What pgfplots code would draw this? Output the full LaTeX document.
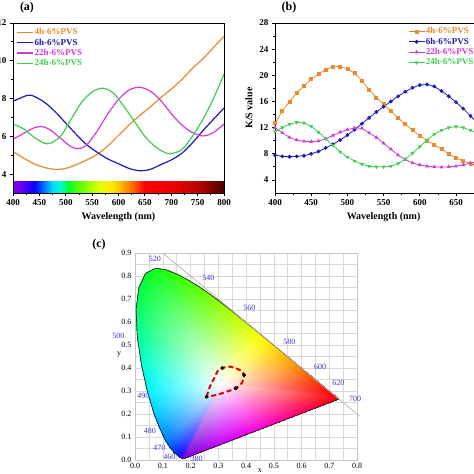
\documentclass[border=0pt]{standalone}
\usepackage{fontspec}
\setmainfont{Liberation Serif}
\usepackage{pgfplots}
\pgfplotsset{compat=1.18}
\definecolor{c4h}{RGB}{234,138,46}
\definecolor{c6h}{RGB}{28,28,185}
\definecolor{c22h}{RGB}{214,58,214}
\definecolor{c24h}{RGB}{64,206,80}
\definecolor{cielab}{RGB}{55,55,205}
\pgfplotsset{
  panelab/.style={
    scale only axis, height=170pt,
    tick pos=left, tick align=outside,
    axis line style={line width=1pt},
    major tick length=3pt, minor tick length=1.6pt,
    every tick/.style={black, line width=0.8pt},
    tick label style={font=\bfseries\fontsize{9}{10}\selectfont},
    /pgf/number format/assume math mode=true,
    xlabel={Wavelength (nm)},
    label style={font=\bfseries\fontsize{10}{12}\selectfont},
    minor x tick num=1, minor y tick num=1,
    legend cell align=left,
    legend style={draw=none, fill=none, font=\bfseries\fontsize{9}{10}\selectfont,
      row sep=0.6pt, inner sep=0pt, nodes={inner sep=1pt}},
  }
}
\begin{document}
\begin{tikzpicture}
\useasboundingbox (0pt,0pt) rectangle (474pt,-474pt);
\clip (0pt,0pt) rectangle (474pt,-474pt);
\fill[white] (0pt,0pt) rectangle (474pt,-474pt);

% ---------------- panel (a)
\begin{axis}[panelab, at={(13pt,-193pt)}, anchor=south west, width=211pt,
  xmin=400, xmax=800, ymin=3, ymax=12,
  xtick={400,450,...,800}, ytick={4,6,8,10,12},
  axis on top,
  legend style={at={(0.015,0.975)}, anchor=north west},
  legend image code/.code={\draw[#1] (0pt,0pt) -- (16pt,0pt);},
  every axis plot/.append style={line width=1.2pt, smooth},
]
\addplot[patch, shader=interp, mesh/color input=explicit,
  mesh/colorspace explicit color input=rgb, point meta=explicit symbolic,
  forget plot, line width=0pt] table[meta=c] {
x y c
400 3 0.55,0,0.85
420 3 0.35,0,0.95
400 3.6 0.55,0,0.85
420 3 0.35,0,0.95
420 3.6 0.35,0,0.95
400 3.6 0.55,0,0.85
420 3 0.35,0,0.95
440 3 0.05,0,1
420 3.6 0.35,0,0.95
440 3 0.05,0,1
440 3.6 0.05,0,1
420 3.6 0.35,0,0.95
440 3 0.05,0,1
455 3 0,0.35,1
440 3.6 0.05,0,1
455 3 0,0.35,1
455 3.6 0,0.35,1
440 3.6 0.05,0,1
455 3 0,0.35,1
475 3 0,0.85,1
455 3.6 0,0.35,1
475 3 0,0.85,1
475 3.6 0,0.85,1
455 3.6 0,0.35,1
475 3 0,0.85,1
490 3 0,1,0.8
475 3.6 0,0.85,1
490 3 0,1,0.8
490 3.6 0,1,0.8
475 3.6 0,0.85,1
490 3 0,1,0.8
505 3 0,1,0.2
490 3.6 0,1,0.8
505 3 0,1,0.2
505 3.6 0,1,0.2
490 3.6 0,1,0.8
505 3 0,1,0.2
525 3 0.35,1,0
505 3.6 0,1,0.2
525 3 0.35,1,0
525 3.6 0.35,1,0
505 3.6 0,1,0.2
525 3 0.35,1,0
545 3 0.6,1,0
525 3.6 0.35,1,0
545 3 0.6,1,0
545 3.6 0.6,1,0
525 3.6 0.35,1,0
545 3 0.6,1,0
565 3 0.9,1,0
545 3.6 0.6,1,0
565 3 0.9,1,0
565 3.6 0.9,1,0
545 3.6 0.6,1,0
565 3 0.9,1,0
590 3 1,0.9,0
565 3.6 0.9,1,0
590 3 1,0.9,0
590 3.6 1,0.9,0
565 3.6 0.9,1,0
590 3 1,0.9,0
610 3 1,0.65,0
590 3.6 1,0.9,0
610 3 1,0.65,0
610 3.6 1,0.65,0
590 3.6 1,0.9,0
610 3 1,0.65,0
630 3 1,0.35,0
610 3.6 1,0.65,0
630 3 1,0.35,0
630 3.6 1,0.35,0
610 3.6 1,0.65,0
630 3 1,0.35,0
650 3 1,0,0
630 3.6 1,0.35,0
650 3 1,0,0
650 3.6 1,0,0
630 3.6 1,0.35,0
650 3 1,0,0
700 3 0.95,0,0
650 3.6 1,0,0
700 3 0.95,0,0
700 3.6 0.95,0,0
650 3.6 1,0,0
700 3 0.95,0,0
750 3 0.75,0,0
700 3.6 0.95,0,0
750 3 0.75,0,0
750 3.6 0.75,0,0
700 3.6 0.95,0,0
750 3 0.75,0,0
800 3 0.3,0,0
750 3.6 0.75,0,0
800 3 0.3,0,0
800 3.6 0.3,0,0
750 3.6 0.75,0,0
};
\addplot[c4h] coordinates {(400,5.2)(420,4.85)(440,4.55)(460,4.35)(480,4.25)(500,4.3)(520,4.5)(540,4.75)(560,5.05)(580,5.5)(600,6.05)(620,6.6)(640,7.1)(660,7.55)(680,8.05)(700,8.5)(720,9.0)(740,9.6)(760,10.1)(780,10.7)(800,11.3)};
\addlegendentry{\textcolor{c4h}{4h-6\%PVS}}
\addplot[c6h] coordinates {(400,7.85)(420,8.1)(430,8.18)(440,8.12)(460,7.8)(480,7.3)(500,6.7)(520,6.1)(540,5.55)(560,5.15)(580,4.8)(600,4.55)(620,4.3)(640,4.18)(660,4.25)(680,4.5)(700,4.75)(720,5.1)(740,5.65)(760,6.3)(780,6.9)(800,7.5)};
\addlegendentry{\textcolor{c6h}{6h-6\%PVS}}
\addplot[c22h] coordinates {(400,5.85)(420,6.15)(440,6.45)(455,6.52)(470,6.35)(490,5.9)(510,5.45)(525,5.35)(540,5.55)(560,6.3)(580,7.2)(600,7.95)(620,8.45)(640,8.6)(660,8.4)(680,7.9)(700,7.2)(720,6.6)(740,6.2)(760,6.02)(780,6.2)(800,6.65)};
\addlegendentry{\textcolor{c22h}{22h-6\%PVS}}
\addplot[c24h] coordinates {(400,6.65)(420,6.4)(440,5.95)(465,5.6)(490,6.0)(510,6.9)(530,7.8)(550,8.35)(570,8.55)(590,8.3)(610,7.6)(630,6.8)(650,6.0)(670,5.45)(695,5.08)(720,5.3)(740,6.0)(760,6.9)(780,8.0)(800,9.3)};
\addlegendentry{\textcolor{c24h}{24h-6\%PVS}}
\end{axis}
\node[font=\bfseries\fontsize{12}{14}\selectfont] at (27pt,-8pt) {(a)};

% ---------------- panel (b)
\begin{axis}[panelab, at={(275pt,-193pt)}, anchor=south west, width=217.2pt,
  xmin=400, xmax=700, ymin=2, ymax=28,
  xtick={400,450,...,700}, ytick={4,8,...,28},
  ylabel={K/S value},
  legend style={at={(0.612,0.98)}, anchor=north west},
  legend image code/.code={\draw[mark repeat=2,mark phase=2,#1] plot coordinates {(0pt,0pt) (8pt,0pt) (16pt,0pt)};},
  every axis plot/.append style={line width=0.8pt, mark size=1.5pt},
]
\addplot[c4h, mark=square*] coordinates {(400,12.7)(410,14.5)(420,16.0)(430,17.3)(440,18.4)(450,19.4)(460,20.2)(470,20.9)(480,21.3)(490,21.35)(500,21.0)(510,20.3)(520,19.2)(530,17.8)(540,16.6)(550,15.6)(560,14.5)(570,13.5)(580,12.5)(590,11.6)(600,10.8)(610,10.0)(620,9.4)(630,8.7)(640,8.0)(650,7.4)(660,6.9)(670,6.5)(680,6.2)(690,5.9)};
\addlegendentry{\textcolor{c4h}{4h-6\%PVS}}
\addplot[c6h, mark=*] coordinates {(400,7.8)(410,7.6)(420,7.55)(430,7.6)(440,7.7)(450,8.0)(460,8.35)(470,8.9)(480,9.45)(490,10.1)(500,10.85)(510,11.7)(520,12.6)(530,13.5)(540,14.4)(550,15.2)(560,16.0)(570,16.8)(580,17.5)(590,18.1)(600,18.5)(610,18.6)(620,18.3)(630,17.6)(640,16.8)(650,15.9)(660,14.9)(670,13.8)(680,12.6)(690,11.5)};
\addlegendentry{\textcolor{c6h}{6h-6\%PVS}}
\addplot[c22h, mark=triangle*] coordinates {(400,12.0)(410,11.2)(420,10.5)(430,10.1)(440,9.9)(450,9.85)(460,9.95)(470,10.3)(480,10.8)(490,11.3)(500,11.7)(510,11.95)(520,11.9)(530,11.2)(540,10.5)(550,9.6)(560,8.7)(570,7.8)(580,7.1)(590,6.6)(600,6.3)(610,6.1)(620,6.0)(630,5.95)(640,6.0)(650,6.1)(660,6.3)(670,6.6)(680,6.8)(690,7.0)};
\addlegendentry{\textcolor{c22h}{22h-6\%PVS}}
\addplot[c24h, mark=triangle*, mark options={rotate=180}] coordinates {(400,11.4)(410,12.0)(420,12.5)(430,12.8)(440,12.7)(450,12.2)(460,11.3)(470,10.3)(480,9.3)(490,8.3)(500,7.5)(510,6.9)(520,6.4)(530,6.1)(540,6.0)(550,6.0)(560,6.1)(570,6.5)(580,7.2)(590,8.1)(600,9.1)(610,10.1)(620,11.0)(630,11.6)(640,12.0)(650,12.15)(660,12.0)(670,11.6)(680,11.1)(690,10.5)};
\addlegendentry{\textcolor{c24h}{24h-6\%PVS}}
\end{axis}
\node[font=\bfseries\fontsize{12}{14}\selectfont] at (289pt,-8pt) {(b)};

% ---------------- panel (c)
\begin{axis}[at={(135pt,-460pt)}, anchor=south west, scale only axis,
  width=222pt, height=207pt,
  xmin=0, xmax=0.8, ymin=0, ymax=0.9,
  xtick={0,0.1,0.2,0.3,0.4,0.5,0.6,0.7,0.8},
  ytick={0,0.1,0.2,0.3,0.4,0.5,0.6,0.7,0.8,0.9},
  minor x tick num=1, minor y tick num=1,
  grid=both, grid style={gray!30, line width=0.5pt},
  minor grid style={gray!30, line width=0.5pt},
  axis line style={gray!45, line width=0.5pt},
  major tick length=0pt, minor tick length=0pt,
  scaled ticks=false,
  /pgf/number format/fixed, /pgf/number format/fixed zerofill,
  /pgf/number format/precision=1,
  /pgf/number format/assume math mode=true,
  tick label style={font=\fontsize{8}{9}\selectfont},
  clip=false,
]
\addplot[patch, shader=interp, mesh/color input=explicit,
  mesh/colorspace explicit color input=rgb, point meta=explicit symbolic,
  line width=0pt] table[meta=c] {
x y c
0.3127 0.329 1,1,1
0.1741 0.0050 0.45,0,0.85
0.1714 0.0051 0.3,0,1
0.3127 0.329 1,1,1
0.1714 0.0051 0.3,0,1
0.1644 0.0109 0.15,0,1
0.3127 0.329 1,1,1
0.1644 0.0109 0.15,0,1
0.1566 0.0177 0.05,0.05,1
0.3127 0.329 1,1,1
0.1566 0.0177 0.05,0.05,1
0.1440 0.0297 0,0.15,1
0.3127 0.329 1,1,1
0.1440 0.0297 0,0.15,1
0.1241 0.0578 0,0.35,1
0.3127 0.329 1,1,1
0.1241 0.0578 0,0.35,1
0.1096 0.0868 0,0.5,1
0.3127 0.329 1,1,1
0.1096 0.0868 0,0.5,1
0.0913 0.1327 0,0.62,1
0.3127 0.329 1,1,1
0.0913 0.1327 0,0.62,1
0.0687 0.2007 0,0.8,1
0.3127 0.329 1,1,1
0.0687 0.2007 0,0.8,1
0.0454 0.2950 0,0.95,1
0.3127 0.329 1,1,1
0.0454 0.2950 0,0.95,1
0.0235 0.4127 0,1,0.85
0.3127 0.329 1,1,1
0.0235 0.4127 0,1,0.85
0.0082 0.5384 0,1,0.6
0.3127 0.329 1,1,1
0.0082 0.5384 0,1,0.6
0.0039 0.6548 0,1,0.4
0.3127 0.329 1,1,1
0.0039 0.6548 0,1,0.4
0.0139 0.7502 0,1,0.25
0.3127 0.329 1,1,1
0.0139 0.7502 0,1,0.25
0.0389 0.8120 0,1,0.15
0.3127 0.329 1,1,1
0.0389 0.8120 0,1,0.15
0.0743 0.8338 0.05,1,0.1
0.3127 0.329 1,1,1
0.0743 0.8338 0.05,1,0.1
0.1142 0.8262 0.1,1,0.05
0.3127 0.329 1,1,1
0.1142 0.8262 0.1,1,0.05
0.1547 0.8059 0.2,1,0
0.3127 0.329 1,1,1
0.1547 0.8059 0.2,1,0
0.2296 0.7543 0.35,1,0
0.3127 0.329 1,1,1
0.2296 0.7543 0.35,1,0
0.3016 0.6923 0.55,1,0
0.3127 0.329 1,1,1
0.3016 0.6923 0.55,1,0
0.3731 0.6245 0.75,1,0
0.3127 0.329 1,1,1
0.3731 0.6245 0.75,1,0
0.4441 0.5547 0.95,1,0
0.3127 0.329 1,1,1
0.4441 0.5547 0.95,1,0
0.4788 0.5202 1,0.95,0
0.3127 0.329 1,1,1
0.4788 0.5202 1,0.95,0
0.5125 0.4866 1,0.85,0
0.3127 0.329 1,1,1
0.5125 0.4866 1,0.85,0
0.5752 0.4242 1,0.62,0
0.3127 0.329 1,1,1
0.5752 0.4242 1,0.62,0
0.6270 0.3725 1,0.4,0
0.3127 0.329 1,1,1
0.6270 0.3725 1,0.4,0
0.6658 0.3340 1,0.2,0
0.3127 0.329 1,1,1
0.6658 0.3340 1,0.2,0
0.6915 0.3083 1,0.08,0
0.3127 0.329 1,1,1
0.6915 0.3083 1,0.08,0
0.7190 0.2809 1,0,0
0.3127 0.329 1,1,1
0.7190 0.2809 1,0,0
0.7347 0.2653 1,0,0
0.3127 0.329 1,1,1
0.7347 0.2653 1,0,0
0.5945 0.2002 1,0,0.4
0.3127 0.329 1,1,1
0.5945 0.2002 1,0,0.4
0.4544 0.1352 1,0,0.85
0.3127 0.329 1,1,1
0.4544 0.1352 1,0,0.85
0.3142 0.0701 0.8,0,1
0.3127 0.329 1,1,1
0.3142 0.0701 0.8,0,1
0.1741 0.0050 0.45,0,0.85
};
\addplot[black!85, line width=0.7pt] coordinates {(0.1741,0.0050)(0.1714,0.0051)(0.1644,0.0109)(0.1566,0.0177)(0.1440,0.0297)(0.1355,0.0399)(0.1241,0.0578)(0.1096,0.0868)(0.0913,0.1327)(0.0687,0.2007)(0.0454,0.2950)(0.0235,0.4127)(0.0082,0.5384)(0.0039,0.6548)(0.0139,0.7502)(0.0389,0.8120)(0.0743,0.8338)(0.1142,0.8262)(0.1547,0.8059)(0.1929,0.7816)(0.2296,0.7543)(0.2658,0.7243)(0.3016,0.6923)(0.3373,0.6589)(0.3731,0.6245)(0.4087,0.5896)(0.4441,0.5547)(0.4788,0.5202)(0.5125,0.4866)(0.5448,0.4544)(0.5752,0.4242)(0.6029,0.3965)(0.6270,0.3725)(0.6482,0.3514)(0.6658,0.3340)(0.6915,0.3083)(0.7079,0.2920)(0.7190,0.2809)(0.7260,0.2740)(0.7347,0.2653)(0.1741,0.0050)};
\addplot[gray!55, line width=0.8pt] coordinates {(0.1,0.9)(0.81,0.19)};
\addplot[red!90!black, line width=2pt, dash pattern=on 5pt off 3pt, smooth] coordinates {(0.258,0.275)(0.270,0.319)(0.288,0.362)(0.300,0.391)(0.315,0.400)(0.342,0.406)(0.378,0.391)(0.393,0.370)(0.384,0.333)(0.363,0.312)(0.330,0.297)(0.294,0.283)(0.258,0.275)};
\addplot[only marks, mark=*, mark size=1.8pt, black] coordinates {(0.258,0.275)(0.315,0.400)(0.393,0.370)(0.363,0.312)};
\begin{scope}[every node/.style={text=cielab, font=\fontsize{8}{9}\selectfont, inner sep=0pt}]
\node at (axis cs:0.072,0.873) {520};
\node at (axis cs:0.264,0.790) {540};
\node at (axis cs:0.412,0.660) {560};
\node at (axis cs:0.556,0.514) {580};
\node at (axis cs:0.667,0.403) {600};
\node at (axis cs:0.733,0.336) {620};
\node at (axis cs:0.793,0.264) {700};
\node at (axis cs:-0.060,0.539) {500};
\node at (axis cs:0.030,0.278) {490};
\node at (axis cs:0.054,0.126) {480};
\node at (axis cs:0.088,0.051) {470};
\node at (axis cs:0.124,0.014) {460};
\node at (axis cs:0.222,0.004) {380};
\end{scope}
\node[font=\fontsize{8}{9}\selectfont] at (axis cs:0.45,-0.045) {x};
\node[font=\fontsize{8}{9}\selectfont] at (axis cs:-0.057,0.457) {y};
\end{axis}
\node[font=\bfseries\fontsize{12}{14}\selectfont] at (99pt,-245pt) {(c)};
\end{tikzpicture}
\end{document}
